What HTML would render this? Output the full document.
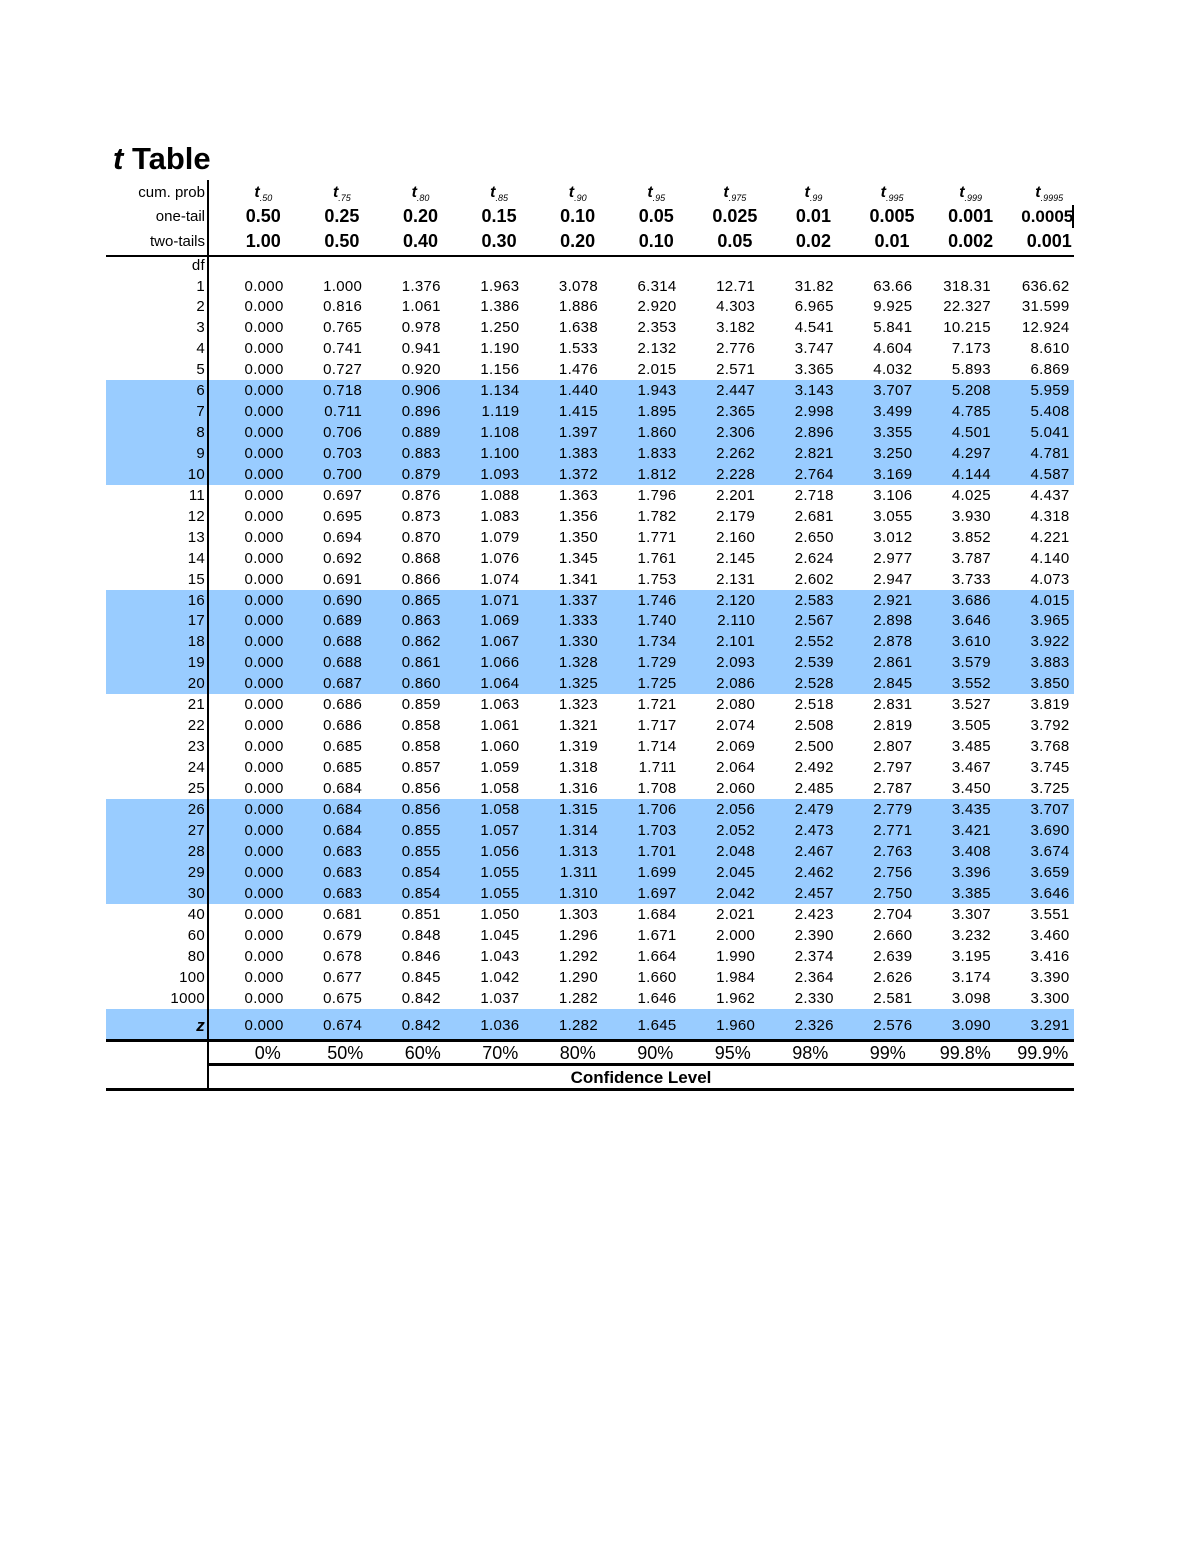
<!DOCTYPE html>
<html><head><meta charset="utf-8"><style>
body{margin:0;background:#fff;width:1200px;height:1553px;position:relative;font-family:"Liberation Sans",sans-serif;color:#000;overflow:hidden}
.r{position:absolute;left:106px;width:968px;height:21px;line-height:21px;font-size:15px;display:flex;letter-spacing:0.3px}
.r span{display:block;width:78.6px;text-align:right;flex:none}
.r span:first-child{width:99px;}
.b{background:#99ccff}
.h{position:absolute;left:106px;width:968px;display:flex;font-size:18px;font-weight:bold}
.h span{display:block;width:78.6px;text-align:center;flex:none}
.h span:first-child{width:118px;text-align:right;font-weight:normal;font-size:15px;padding-right:19px;box-sizing:border-box}
.hl{position:absolute;left:106px;width:968px;background:#000;z-index:2}
</style></head><body>
<div style="position:absolute;left:113px;top:141px;font-size:31px;font-weight:bold"><i>t</i> Table</div>
<div style="position:absolute;left:207px;top:180px;width:2px;height:910px;background:#000;z-index:3"></div>
<div class="h" style="top:182px;height:21px;line-height:21px;font-weight:normal;font-style:italic;font-size:16px"><span style="font-style:normal">cum. prob</span><span><b>t</b><sub style="font-size:9px">.50</sub></span><span><b>t</b><sub style="font-size:9px">.75</sub></span><span><b>t</b><sub style="font-size:9px">.80</sub></span><span><b>t</b><sub style="font-size:9px">.85</sub></span><span><b>t</b><sub style="font-size:9px">.90</sub></span><span><b>t</b><sub style="font-size:9px">.95</sub></span><span><b>t</b><sub style="font-size:9px">.975</sub></span><span><b>t</b><sub style="font-size:9px">.99</sub></span><span><b>t</b><sub style="font-size:9px">.995</sub></span><span><b>t</b><sub style="font-size:9px">.999</sub></span><span><b>t</b><sub style="font-size:9px">.9995</sub></span></div>
<div class="h" style="top:205px;height:23px;line-height:23px"><span>one-tail</span><span>0.50</span><span>0.25</span><span>0.20</span><span>0.15</span><span>0.10</span><span>0.05</span><span>0.025</span><span>0.01</span><span>0.005</span><span>0.001</span><span style="font-size:17px;padding-right:4px;box-sizing:border-box">0.0005</span></div>
<div style="position:absolute;left:1072px;top:205px;width:2px;height:23px;background:#000"></div>
<div class="h" style="top:230px;height:23px;line-height:23px"><span>two-tails</span><span>1.00</span><span>0.50</span><span>0.40</span><span>0.30</span><span>0.20</span><span>0.10</span><span>0.05</span><span>0.02</span><span>0.01</span><span>0.002</span><span>0.001</span></div>
<div class="hl" style="top:255px;height:2px"></div>
<div class="r" style="top:255px"><span>df</span></div>
<div class="r" style="top:275.5px"><span>1</span><span>0.000</span><span>1.000</span><span>1.376</span><span>1.963</span><span>3.078</span><span>6.314</span><span>12.71</span><span>31.82</span><span>63.66</span><span>318.31</span><span>636.62</span></div>
<div class="r" style="top:296.4px"><span>2</span><span>0.000</span><span>0.816</span><span>1.061</span><span>1.386</span><span>1.886</span><span>2.920</span><span>4.303</span><span>6.965</span><span>9.925</span><span>22.327</span><span>31.599</span></div>
<div class="r" style="top:317.4px"><span>3</span><span>0.000</span><span>0.765</span><span>0.978</span><span>1.250</span><span>1.638</span><span>2.353</span><span>3.182</span><span>4.541</span><span>5.841</span><span>10.215</span><span>12.924</span></div>
<div class="r" style="top:338.3px"><span>4</span><span>0.000</span><span>0.741</span><span>0.941</span><span>1.190</span><span>1.533</span><span>2.132</span><span>2.776</span><span>3.747</span><span>4.604</span><span>7.173</span><span>8.610</span></div>
<div class="r" style="top:359.2px"><span>5</span><span>0.000</span><span>0.727</span><span>0.920</span><span>1.156</span><span>1.476</span><span>2.015</span><span>2.571</span><span>3.365</span><span>4.032</span><span>5.893</span><span>6.869</span></div>
<div class="r b" style="top:380.2px"><span>6</span><span>0.000</span><span>0.718</span><span>0.906</span><span>1.134</span><span>1.440</span><span>1.943</span><span>2.447</span><span>3.143</span><span>3.707</span><span>5.208</span><span>5.959</span></div>
<div class="r b" style="top:401.1px"><span>7</span><span>0.000</span><span>0.711</span><span>0.896</span><span>1.119</span><span>1.415</span><span>1.895</span><span>2.365</span><span>2.998</span><span>3.499</span><span>4.785</span><span>5.408</span></div>
<div class="r b" style="top:422px"><span>8</span><span>0.000</span><span>0.706</span><span>0.889</span><span>1.108</span><span>1.397</span><span>1.860</span><span>2.306</span><span>2.896</span><span>3.355</span><span>4.501</span><span>5.041</span></div>
<div class="r b" style="top:443px"><span>9</span><span>0.000</span><span>0.703</span><span>0.883</span><span>1.100</span><span>1.383</span><span>1.833</span><span>2.262</span><span>2.821</span><span>3.250</span><span>4.297</span><span>4.781</span></div>
<div class="r b" style="top:463.9px"><span>10</span><span>0.000</span><span>0.700</span><span>0.879</span><span>1.093</span><span>1.372</span><span>1.812</span><span>2.228</span><span>2.764</span><span>3.169</span><span>4.144</span><span>4.587</span></div>
<div class="r" style="top:484.8px"><span>11</span><span>0.000</span><span>0.697</span><span>0.876</span><span>1.088</span><span>1.363</span><span>1.796</span><span>2.201</span><span>2.718</span><span>3.106</span><span>4.025</span><span>4.437</span></div>
<div class="r" style="top:505.7px"><span>12</span><span>0.000</span><span>0.695</span><span>0.873</span><span>1.083</span><span>1.356</span><span>1.782</span><span>2.179</span><span>2.681</span><span>3.055</span><span>3.930</span><span>4.318</span></div>
<div class="r" style="top:526.7px"><span>13</span><span>0.000</span><span>0.694</span><span>0.870</span><span>1.079</span><span>1.350</span><span>1.771</span><span>2.160</span><span>2.650</span><span>3.012</span><span>3.852</span><span>4.221</span></div>
<div class="r" style="top:547.6px"><span>14</span><span>0.000</span><span>0.692</span><span>0.868</span><span>1.076</span><span>1.345</span><span>1.761</span><span>2.145</span><span>2.624</span><span>2.977</span><span>3.787</span><span>4.140</span></div>
<div class="r" style="top:568.5px"><span>15</span><span>0.000</span><span>0.691</span><span>0.866</span><span>1.074</span><span>1.341</span><span>1.753</span><span>2.131</span><span>2.602</span><span>2.947</span><span>3.733</span><span>4.073</span></div>
<div class="r b" style="top:589.5px"><span>16</span><span>0.000</span><span>0.690</span><span>0.865</span><span>1.071</span><span>1.337</span><span>1.746</span><span>2.120</span><span>2.583</span><span>2.921</span><span>3.686</span><span>4.015</span></div>
<div class="r b" style="top:610.4px"><span>17</span><span>0.000</span><span>0.689</span><span>0.863</span><span>1.069</span><span>1.333</span><span>1.740</span><span>2.110</span><span>2.567</span><span>2.898</span><span>3.646</span><span>3.965</span></div>
<div class="r b" style="top:631.3px"><span>18</span><span>0.000</span><span>0.688</span><span>0.862</span><span>1.067</span><span>1.330</span><span>1.734</span><span>2.101</span><span>2.552</span><span>2.878</span><span>3.610</span><span>3.922</span></div>
<div class="r b" style="top:652.3px"><span>19</span><span>0.000</span><span>0.688</span><span>0.861</span><span>1.066</span><span>1.328</span><span>1.729</span><span>2.093</span><span>2.539</span><span>2.861</span><span>3.579</span><span>3.883</span></div>
<div class="r b" style="top:673.2px"><span>20</span><span>0.000</span><span>0.687</span><span>0.860</span><span>1.064</span><span>1.325</span><span>1.725</span><span>2.086</span><span>2.528</span><span>2.845</span><span>3.552</span><span>3.850</span></div>
<div class="r" style="top:694.1px"><span>21</span><span>0.000</span><span>0.686</span><span>0.859</span><span>1.063</span><span>1.323</span><span>1.721</span><span>2.080</span><span>2.518</span><span>2.831</span><span>3.527</span><span>3.819</span></div>
<div class="r" style="top:715px"><span>22</span><span>0.000</span><span>0.686</span><span>0.858</span><span>1.061</span><span>1.321</span><span>1.717</span><span>2.074</span><span>2.508</span><span>2.819</span><span>3.505</span><span>3.792</span></div>
<div class="r" style="top:736px"><span>23</span><span>0.000</span><span>0.685</span><span>0.858</span><span>1.060</span><span>1.319</span><span>1.714</span><span>2.069</span><span>2.500</span><span>2.807</span><span>3.485</span><span>3.768</span></div>
<div class="r" style="top:756.9px"><span>24</span><span>0.000</span><span>0.685</span><span>0.857</span><span>1.059</span><span>1.318</span><span>1.711</span><span>2.064</span><span>2.492</span><span>2.797</span><span>3.467</span><span>3.745</span></div>
<div class="r" style="top:777.8px"><span>25</span><span>0.000</span><span>0.684</span><span>0.856</span><span>1.058</span><span>1.316</span><span>1.708</span><span>2.060</span><span>2.485</span><span>2.787</span><span>3.450</span><span>3.725</span></div>
<div class="r b" style="top:798.8px"><span>26</span><span>0.000</span><span>0.684</span><span>0.856</span><span>1.058</span><span>1.315</span><span>1.706</span><span>2.056</span><span>2.479</span><span>2.779</span><span>3.435</span><span>3.707</span></div>
<div class="r b" style="top:819.7px"><span>27</span><span>0.000</span><span>0.684</span><span>0.855</span><span>1.057</span><span>1.314</span><span>1.703</span><span>2.052</span><span>2.473</span><span>2.771</span><span>3.421</span><span>3.690</span></div>
<div class="r b" style="top:840.6px"><span>28</span><span>0.000</span><span>0.683</span><span>0.855</span><span>1.056</span><span>1.313</span><span>1.701</span><span>2.048</span><span>2.467</span><span>2.763</span><span>3.408</span><span>3.674</span></div>
<div class="r b" style="top:861.6px"><span>29</span><span>0.000</span><span>0.683</span><span>0.854</span><span>1.055</span><span>1.311</span><span>1.699</span><span>2.045</span><span>2.462</span><span>2.756</span><span>3.396</span><span>3.659</span></div>
<div class="r b" style="top:882.5px"><span>30</span><span>0.000</span><span>0.683</span><span>0.854</span><span>1.055</span><span>1.310</span><span>1.697</span><span>2.042</span><span>2.457</span><span>2.750</span><span>3.385</span><span>3.646</span></div>
<div class="r" style="top:903.5px"><span>40</span><span>0.000</span><span>0.681</span><span>0.851</span><span>1.050</span><span>1.303</span><span>1.684</span><span>2.021</span><span>2.423</span><span>2.704</span><span>3.307</span><span>3.551</span></div>
<div class="r" style="top:924.5px"><span>60</span><span>0.000</span><span>0.679</span><span>0.848</span><span>1.045</span><span>1.296</span><span>1.671</span><span>2.000</span><span>2.390</span><span>2.660</span><span>3.232</span><span>3.460</span></div>
<div class="r" style="top:945.5px"><span>80</span><span>0.000</span><span>0.678</span><span>0.846</span><span>1.043</span><span>1.292</span><span>1.664</span><span>1.990</span><span>2.374</span><span>2.639</span><span>3.195</span><span>3.416</span></div>
<div class="r" style="top:966.5px"><span>100</span><span>0.000</span><span>0.677</span><span>0.845</span><span>1.042</span><span>1.290</span><span>1.660</span><span>1.984</span><span>2.364</span><span>2.626</span><span>3.174</span><span>3.390</span></div>
<div class="r" style="top:987.5px"><span>1000</span><span>0.000</span><span>0.675</span><span>0.842</span><span>1.037</span><span>1.282</span><span>1.646</span><span>1.962</span><span>2.330</span><span>2.581</span><span>3.098</span><span>3.300</span></div>
<div class="r b" style="top:1009px;height:31px;line-height:33px"><span style="font-weight:bold;font-style:italic;font-size:17px">z</span><span>0.000</span><span>0.674</span><span>0.842</span><span>1.036</span><span>1.282</span><span>1.645</span><span>1.960</span><span>2.326</span><span>2.576</span><span>3.090</span><span>3.291</span></div>
<div class="hl" style="top:1039px;height:3px"></div>
<div class="h" style="top:1042px;height:22px;line-height:22px;font-weight:normal"><span style="width:123px"></span><span style="width:77.5px">0%</span><span style="width:77.5px">50%</span><span style="width:77.5px">60%</span><span style="width:77.5px">70%</span><span style="width:77.5px">80%</span><span style="width:77.5px">90%</span><span style="width:77.5px">95%</span><span style="width:77.5px">98%</span><span style="width:77.5px">99%</span><span style="width:77.5px">99.8%</span><span style="width:77.5px">99.9%</span></div>
<div style="position:absolute;left:208px;top:1063px;width:866px;height:3px;background:#000"></div>
<div style="position:absolute;left:208px;width:866px;top:1067px;height:21px;line-height:21px;text-align:center;font-weight:bold;font-size:17px">Confidence Level</div>
<div class="hl" style="top:1088px;height:3px"></div>
</body></html>
